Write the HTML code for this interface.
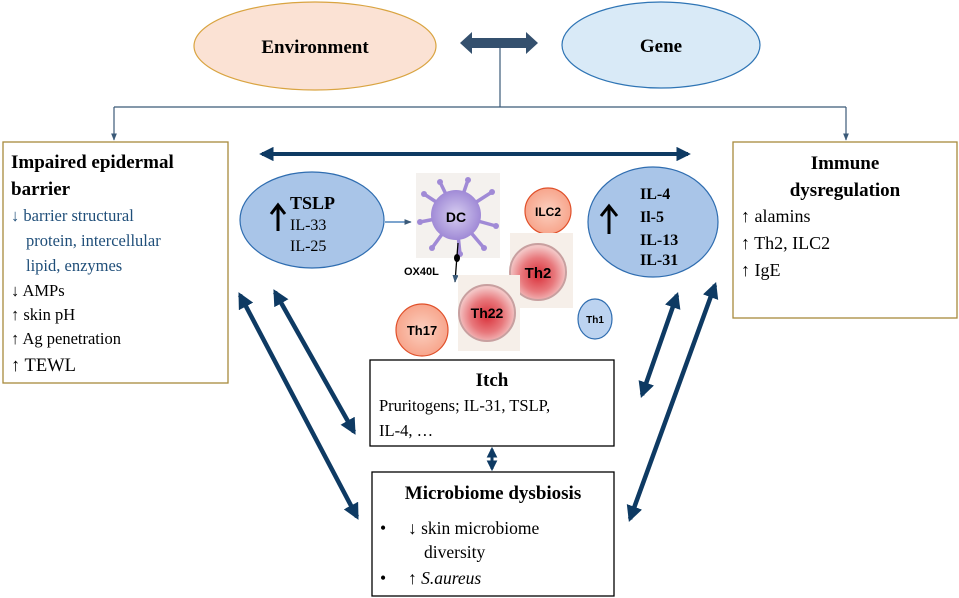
<!DOCTYPE html>
<html><head><meta charset="utf-8"><style>
body{margin:0;background:#fff}
svg{display:block}
.s{font-family:"Liberation Serif",serif}
.a{font-family:"Liberation Sans",sans-serif;font-weight:bold}
</style></head><body>
<svg width="959" height="598" viewBox="0 0 959 598" xmlns="http://www.w3.org/2000/svg">
<defs>
<marker id="m" viewBox="0 0 10 10" refX="8" refY="5" markerWidth="3.6" markerHeight="3.6" orient="auto-start-reverse"><path d="M0,0L10,5L0,10z" fill="#0e3a63"/></marker>
<marker id="t" viewBox="0 0 10 10" refX="9" refY="5" markerWidth="6" markerHeight="6" orient="auto"><path d="M0,1L10,5L0,9z" fill="#3b5a78"/></marker>
<radialGradient id="r" cx="50%" cy="55%" r="50%"><stop offset="0" stop-color="#d9303a"/><stop offset="0.6" stop-color="#e8787c"/><stop offset="1" stop-color="#f3c4c4"/></radialGradient>
<radialGradient id="o" cx="50%" cy="50%" r="50%"><stop offset="0" stop-color="#fbd0c0"/><stop offset="1" stop-color="#f7a58c"/></radialGradient>
<radialGradient id="p" cx="50%" cy="50%" r="50%"><stop offset="0" stop-color="#d6cdf0"/><stop offset="1" stop-color="#a08ad6"/></radialGradient>
</defs>
<!-- top -->
<ellipse cx="315" cy="46" rx="121" ry="44" fill="#fbe2d4" stroke="#d9a441" stroke-width="1.2"/>
<text x="315" y="53" class="s" font-size="19" font-weight="bold" text-anchor="middle">Environment</text>
<ellipse cx="661" cy="45" rx="99" ry="43" fill="#d9eaf7" stroke="#2f75b5" stroke-width="1.2"/>
<text x="661" y="52" class="s" font-size="19" font-weight="bold" text-anchor="middle">Gene</text>
<path d="M460,43L472,32V38H526V32L538,43L526,54V48H472V54Z" fill="#34506e"/>
<path d="M500,48V107M114,107H846" stroke="#3b5a78" stroke-width="1.2" fill="none"/>
<line x1="114" y1="107" x2="114" y2="140" stroke="#3b5a78" stroke-width="1.2" marker-end="url(#t)"/>
<line x1="846" y1="107" x2="846" y2="140" stroke="#3b5a78" stroke-width="1.2" marker-end="url(#t)"/>
<!-- boxes -->
<rect x="3" y="142" width="225" height="241" fill="#fff" stroke="#a88a3c" stroke-width="1.3"/>
<g class="s" font-size="16.5">
<text x="11" y="168" font-size="19" font-weight="bold">Impaired epidermal</text>
<text x="11" y="195" font-size="19" font-weight="bold">barrier</text>
<text x="11" y="221" fill="#1f4e79">↓ barrier structural</text>
<text x="26" y="246" fill="#1f4e79">protein, intercellular</text>
<text x="26" y="271" fill="#1f4e79">lipid, enzymes</text>
<text x="11" y="296">↓ AMPs</text>
<text x="11" y="320">↑ skin pH</text>
<text x="11" y="344">↑ Ag penetration</text>
<text x="11" y="371" font-size="18.5">↑ TEWL</text>
</g>
<rect x="733" y="142" width="224" height="176" fill="#fff" stroke="#a88a3c" stroke-width="1.3"/>
<g class="s" font-size="18">
<text x="845" y="169" font-size="19" font-weight="bold" text-anchor="middle">Immune</text>
<text x="845" y="196" font-size="19" font-weight="bold" text-anchor="middle">dysregulation</text>
<text x="741" y="222">↑ alamins</text>
<text x="741" y="249">↑ Th2, ILC2</text>
<text x="741" y="276">↑ IgE</text>
</g>
<line x1="262" y1="154" x2="688" y2="154" stroke="#0e3a63" stroke-width="4" marker-start="url(#m)" marker-end="url(#m)"/>
<!-- ellipses -->
<ellipse cx="312" cy="220" rx="72" ry="48" fill="#a9c5e8" stroke="#2f6db0" stroke-width="1.2"/>
<path d="M271,214L278,205L285,214M278,206V231" stroke="#000" stroke-width="3" fill="none"/>
<text x="290" y="209" class="s" font-size="18" font-weight="bold">TSLP</text>
<text x="290" y="230" class="s" font-size="16">IL-33</text>
<text x="290" y="251" class="s" font-size="16">IL-25</text>
<line x1="385" y1="222" x2="411" y2="222" stroke="#2f6db0" stroke-width="1.2" marker-end="url(#t)"/>
<ellipse cx="653" cy="222" rx="65" ry="55" fill="#a9c5e8" stroke="#2f6db0" stroke-width="1.2"/>
<path d="M601,216L609,206L617,216M609,207V234" stroke="#000" stroke-width="3" fill="none"/>
<g class="s" font-size="16" font-weight="bold"><text x="640" y="199">IL-4</text><text x="640" y="222">Il-5</text><text x="640" y="245">IL-13</text><text x="640" y="265">IL-31</text></g>
<!-- cells -->
<rect x="416" y="173" width="84" height="85" fill="#f4f1ee"/>
<g stroke="#a08ad6" stroke-width="3.5" stroke-linecap="round" fill="none">
<path d="M456,215L440,182M456,215L468,180M456,215L492,192M456,215L496,226M456,215L484,248M456,215L460,254M456,215L432,248M456,215L420,222M456,215L424,194"/>
</g>
<g fill="#a08ad6"><circle cx="440" cy="182" r="3"/><circle cx="468" cy="180" r="3"/><circle cx="492" cy="192" r="3"/><circle cx="496" cy="226" r="3"/><circle cx="484" cy="248" r="3"/><circle cx="460" cy="254" r="3"/><circle cx="432" cy="248" r="3"/><circle cx="420" cy="222" r="3"/><circle cx="424" cy="194" r="3"/></g>
<circle cx="456" cy="215" r="25" fill="url(#p)"/>
<text x="456" y="222" class="a" font-size="14" text-anchor="middle">DC</text>
<line x1="458" y1="243" x2="455" y2="282" stroke="#000" stroke-width="1.3" marker-end="url(#t)"/>
<ellipse cx="457" cy="258" rx="3" ry="4"/>
<text x="404" y="275" class="a" font-size="11">OX40L</text>
<circle cx="548" cy="211" r="23" fill="url(#o)" stroke="#e0502a" stroke-width="1.2"/>
<text x="548" y="216" class="a" font-size="12" text-anchor="middle">ILC2</text>
<rect x="510" y="233" width="63" height="75" fill="#f6efe9"/>
<circle cx="538" cy="272" r="28" fill="url(#r)" stroke="#c8a0a0" stroke-width="2"/>
<text x="538" y="278" class="a" font-size="15" text-anchor="middle">Th2</text>
<rect x="458" y="275" width="62" height="76" fill="#f6efe9"/>
<circle cx="487" cy="313" r="28" fill="url(#r)" stroke="#c8a0a0" stroke-width="2"/>
<text x="487" y="318" class="a" font-size="14" text-anchor="middle">Th22</text>
<circle cx="422" cy="330" r="26" fill="url(#o)" stroke="#e0502a" stroke-width="1.2"/>
<text x="422" y="335" class="a" font-size="13" text-anchor="middle">Th17</text>
<ellipse cx="595" cy="319" rx="17" ry="20" fill="#bcd3f0" stroke="#2f6db0" stroke-width="1.2"/>
<text x="595" y="323" class="a" font-size="10" text-anchor="middle">Th1</text>
<!-- itch -->
<rect x="370" y="360" width="244" height="86" fill="#fff" stroke="#000" stroke-width="1.3"/>
<text x="492" y="386" class="s" font-size="19" font-weight="bold" text-anchor="middle">Itch</text>
<text x="379" y="411" class="s" font-size="16.5">Pruritogens; IL-31, TSLP,</text>
<text x="379" y="436" class="s" font-size="16.5">IL-4, …</text>
<line x1="492" y1="449" x2="492" y2="469" stroke="#0e3a63" stroke-width="3" marker-start="url(#m)" marker-end="url(#m)"/>
<rect x="372" y="472" width="242" height="124" fill="#fff" stroke="#000" stroke-width="1.3"/>
<text x="493" y="499" class="s" font-size="19" font-weight="bold" text-anchor="middle">Microbiome dysbiosis</text>
<g class="s" font-size="17.5">
<text x="380" y="534">•</text><text x="408" y="534">↓ skin microbiome</text>
<text x="424" y="558">diversity</text>
<text x="380" y="584">•</text><text x="408" y="584">↑ <tspan font-style="italic">S.aureus</tspan></text>
</g>
<!-- diagonal arrows -->
<g stroke="#0e3a63" stroke-width="4.5" marker-start="url(#m)" marker-end="url(#m)">
<line x1="240" y1="295" x2="357" y2="517"/>
<line x1="275" y1="292" x2="354" y2="432"/>
<line x1="715" y1="285" x2="630" y2="519"/>
<line x1="677" y1="295" x2="642" y2="395"/>
</g>
</svg>
</body></html>
